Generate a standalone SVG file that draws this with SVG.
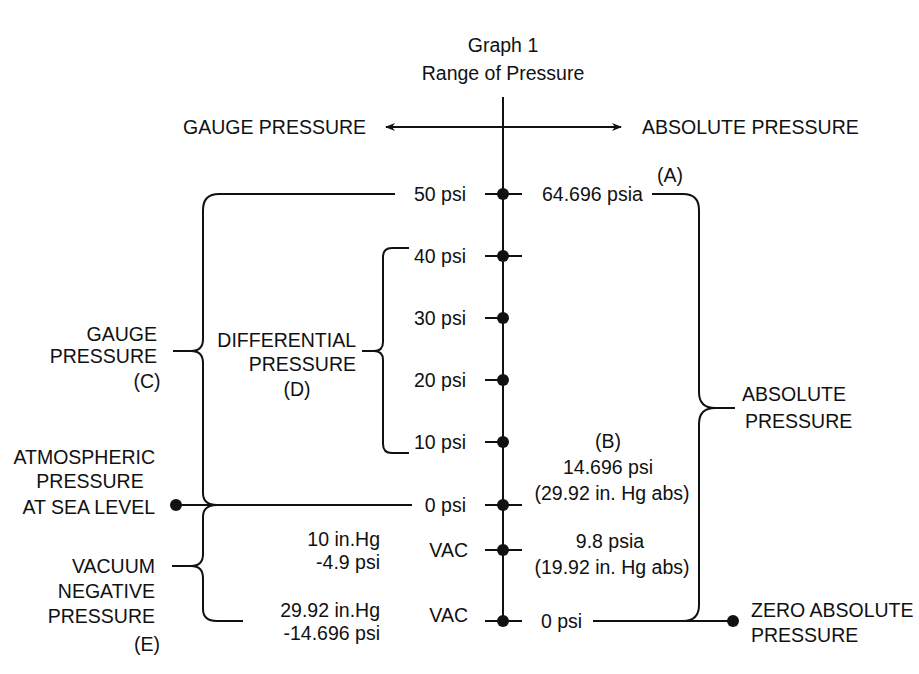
<svg xmlns="http://www.w3.org/2000/svg" width="919" height="674" viewBox="0 0 919 674">
<style>
text{font-family:"Liberation Sans",Arial,sans-serif;font-size:19.5px;fill:#111}
.l{stroke:#111;stroke-width:2;fill:none}
.m{text-anchor:middle}.e{text-anchor:end}
</style>
<defs><marker id="ah" viewBox="0 0 10 10" refX="9" refY="5" markerWidth="14" markerHeight="10" markerUnits="userSpaceOnUse" orient="auto-start-reverse"><path d="M0,1L10,5L0,9L3,5Z" fill="#111"/></marker></defs>
<rect width="919" height="674" fill="#fff"/>
<text x="503" y="52" class="m">Graph 1</text>
<text x="503" y="80" class="m">Range of Pressure</text>
<text x="183" y="134">GAUGE PRESSURE</text>
<text x="642" y="134">ABSOLUTE PRESSURE</text>
<g id="connectors">
<line class="l" x1="503" y1="97" x2="503" y2="621"/>
<line class="l" x1="386" y1="127" x2="621" y2="127" marker-start="url(#ah)" marker-end="url(#ah)"/>
<path class="l" d="M485 194H522M485 256H522M485 318H503M485 380H503M485 442H503M485 505H522M485 550H522M485 621H522"/>
<path class="l" d="M395 194H219Q203 194 203 210V339Q203 351 191 351H173M191 351Q203 351 203 363V493Q203 505 217 505"/>
<path class="l" d="M176 505H412"/>
<path class="l" d="M217 505Q203 505 203 517V554Q203 566 191 566H172M191 566Q203 566 203 578V609Q203 621 217 621H243"/>
<path class="l" d="M409 248H392Q383 248 383 257V342Q383 351 374 351H362M374 351Q383 351 383 360V444Q383 453 392 453H409"/>
<path class="l" d="M652 194H683Q699 194 699 210V392Q699 408 715 408H735M715 408Q699 408 699 424V605Q699 621 683 621"/>
<path class="l" d="M593 621H733"/>
</g>
<g id="dots" fill="#111">
<circle cx="503" cy="194" r="6"/><circle cx="503" cy="256" r="6"/><circle cx="503" cy="318" r="6"/><circle cx="503" cy="380" r="6"/><circle cx="503" cy="442" r="6"/><circle cx="503" cy="505" r="6"/><circle cx="503" cy="550" r="6"/><circle cx="503" cy="621" r="6"/>
<circle cx="176" cy="505" r="6"/><circle cx="733" cy="621" r="6"/>
</g>
<g id="labels">
<text x="466" y="201" class="e">50 psi</text>
<text x="466" y="263" class="e">40 psi</text>
<text x="466" y="325" class="e">30 psi</text>
<text x="466" y="387" class="e">20 psi</text>
<text x="466" y="449" class="e">10 psi</text>
<text x="466" y="512" class="e">0 psi</text>
<text x="468" y="557" class="e">VAC</text>
<text x="468" y="622" class="e">VAC</text>
<text x="542" y="201">64.696 psia</text>
<text x="670" y="182" class="m">(A)</text>
<text x="608" y="448" class="m">(B)</text>
<text x="608" y="474" class="m">14.696 psi</text>
<text x="612" y="500" class="m">(29.92 in. Hg abs)</text>
<text x="610" y="548" class="m">9.8 psia</text>
<text x="612" y="574" class="m">(19.92 in. Hg abs)</text>
<text x="541" y="628">0 psi</text>
<text x="742" y="401">ABSOLUTE</text>
<text x="745" y="428">PRESSURE</text>
<text x="751" y="617">ZERO ABSOLUTE</text>
<text x="751" y="642">PRESSURE</text>
<text x="356" y="347" class="e">DIFFERENTIAL</text>
<text x="356" y="371" class="e">PRESSURE</text>
<text x="297" y="396" class="m">(D)</text>
<text x="157" y="341" class="e">GAUGE</text>
<text x="157" y="363" class="e">PRESSURE</text>
<text x="147" y="388" class="m">(C)</text>
<text x="155" y="464" class="e">ATMOSPHERIC</text>
<text x="90" y="488" class="m">PRESSURE</text>
<text x="155" y="514" class="e">AT SEA LEVEL</text>
<text x="155" y="573" class="e">VACUUM</text>
<text x="155" y="598" class="e">NEGATIVE</text>
<text x="155" y="623" class="e">PRESSURE</text>
<text x="147" y="651" class="m">(E)</text>
<text x="380" y="546" class="e">10 in.Hg</text>
<text x="380" y="569" class="e">-4.9 psi</text>
<text x="380" y="617" class="e">29.92 in.Hg</text>
<text x="380" y="640" class="e">-14.696 psi</text>
</g>
</svg>
